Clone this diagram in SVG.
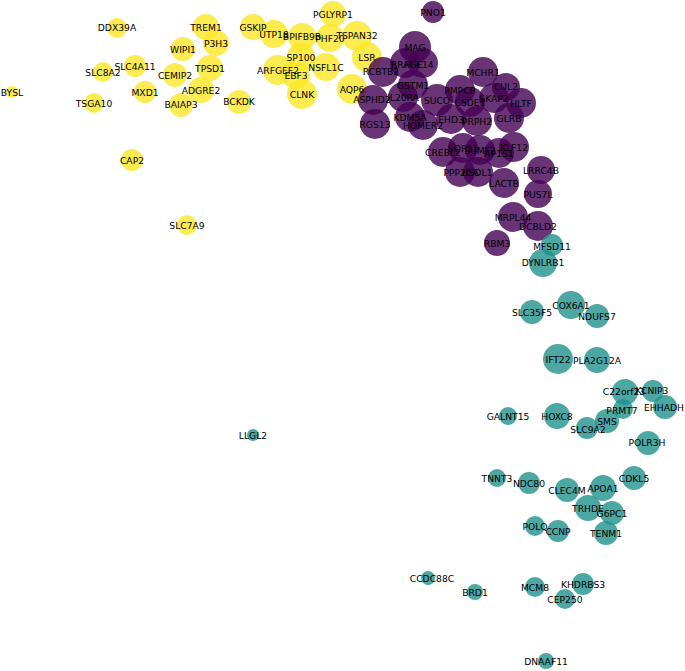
<svg xmlns="http://www.w3.org/2000/svg" width="685" height="671" viewBox="0 0 685 671">
<style>
.y{fill:#fde725;fill-opacity:0.8}
.p{fill:#440154;fill-opacity:0.8}
.t{fill:#21918c;fill-opacity:0.8}
text{font-family:"DejaVu Sans",sans-serif;font-size:9.2px;fill:#000;text-anchor:middle;dominant-baseline:central}
</style>
<rect width="685" height="671" fill="#fff"/>
<g id="connectors"/>
<g id="nodes">
<g id="node-DDX39A"><circle class="y" cx="117" cy="28" r="10"/></g>
<g id="node-TREM1"><circle class="y" cx="206" cy="27" r="13"/></g>
<g id="node-P3H3"><circle class="y" cx="216" cy="43" r="13"/></g>
<g id="node-WIPI1"><circle class="y" cx="183" cy="49" r="12"/></g>
<g id="node-SLC4A11"><circle class="y" cx="135" cy="66" r="11"/></g>
<g id="node-SLC8A2"><circle class="y" cx="103" cy="72" r="10"/></g>
<g id="node-CEMIP2"><circle class="y" cx="175" cy="75" r="12"/></g>
<g id="node-TPSD1"><circle class="y" cx="210" cy="68" r="13"/></g>
<g id="node-BYSL"><circle class="y" cx="12" cy="92" r="6"/></g>
<g id="node-MXD1"><circle class="y" cx="145" cy="92" r="11"/></g>
<g id="node-ADGRE2"><circle class="y" cx="201" cy="90" r="13"/></g>
<g id="node-TSGA10"><circle class="y" cx="94" cy="103" r="10"/></g>
<g id="node-BAIAP3"><circle class="y" cx="181" cy="105" r="12"/></g>
<g id="node-BCKDK"><circle class="y" cx="239" cy="102" r="12"/></g>
<g id="node-GSKIP"><circle class="y" cx="253" cy="27" r="13"/></g>
<g id="node-UTP18"><circle class="y" cx="274" cy="34" r="14"/></g>
<g id="node-BPIFB9B"><circle class="y" cx="302" cy="37" r="14"/></g>
<g id="node-PHF20"><circle class="y" cx="330" cy="38" r="14"/></g>
<g id="node-PGLYRP1"><circle class="y" cx="333" cy="14" r="13"/></g>
<g id="node-TSPAN32"><circle class="y" cx="357" cy="36" r="15"/></g>
<g id="node-SP100"><circle class="y" cx="301" cy="57" r="14"/></g>
<g id="node-ARFGEF2"><circle class="y" cx="278" cy="70" r="15"/></g>
<g id="node-EBF3"><circle class="y" cx="296" cy="75" r="14"/></g>
<g id="node-NSFL1C"><circle class="y" cx="326" cy="67" r="14"/></g>
<g id="node-LSR"><circle class="y" cx="367" cy="57" r="15"/></g>
<g id="node-CLNK"><circle class="y" cx="302" cy="94" r="15"/></g>
<g id="node-AQP6"><circle class="y" cx="352" cy="89" r="15"/></g>
<g id="node-CAP2"><circle class="y" cx="132" cy="160" r="11"/></g>
<g id="node-SLC7A9"><circle class="y" cx="187" cy="225" r="10"/></g>

<g id="node-PNO1"><circle class="p" cx="433" cy="12" r="11"/></g>
<g id="node-MAG"><circle class="p" cx="415" cy="47" r="16"/></g>
<g id="node-RRAGC"><circle class="p" cx="405" cy="63" r="15"/></g>
<g id="node-FGF14"><circle class="p" cx="423" cy="63" r="15"/></g>
<g id="node-RCBTB2"><circle class="p" cx="383" cy="72" r="15"/></g>
<g id="node-GSTM1"><circle class="p" cx="413" cy="85" r="15"/></g>
<g id="node-ASPHD2"><circle class="p" cx="373" cy="100" r="15"/></g>
<g id="node-IL20RA"><circle class="p" cx="403" cy="97" r="15"/></g>
<g id="node-SUCO"><circle class="p" cx="437" cy="100" r="16"/></g>
<g id="node-PMPCB"><circle class="p" cx="460" cy="90" r="15"/></g>
<g id="node-RGS13"><circle class="p" cx="375" cy="124" r="15"/></g>
<g id="node-KDM5A"><circle class="p" cx="410" cy="117" r="15"/></g>
<g id="node-HOMER2"><circle class="p" cx="423" cy="125" r="15"/></g>
<g id="node-EHD3"><circle class="p" cx="451" cy="119" r="15"/></g>
<g id="node-CSDE1"><circle class="p" cx="470" cy="102" r="15"/></g>
<g id="node-SKAP2"><circle class="p" cx="494" cy="98" r="15"/></g>
<g id="node-MCHR1"><circle class="p" cx="483" cy="72" r="15"/></g>
<g id="node-CUL2"><circle class="p" cx="506" cy="87" r="14"/></g>
<g id="node-HLTF"><circle class="p" cx="521" cy="103" r="15"/></g>
<g id="node-GLRB"><circle class="p" cx="509" cy="118" r="15"/></g>
<g id="node-PRPH2"><circle class="p" cx="477" cy="121" r="15"/></g>
<g id="node-CREBL2"><circle class="p" cx="443" cy="152" r="15"/></g>
<g id="node-SORT1"><circle class="p" cx="463" cy="148" r="15"/></g>
<g id="node-SUMF2"><circle class="p" cx="480" cy="150" r="15"/></g>
<g id="node-AP1S1"><circle class="p" cx="499" cy="153" r="15"/></g>
<g id="node-KLF12"><circle class="p" cx="514" cy="147" r="15"/></g>
<g id="node-PPP2CA"><circle class="p" cx="460" cy="172" r="15"/></g>
<g id="node-HSDL1"><circle class="p" cx="478" cy="172" r="15"/></g>
<g id="node-LACTB"><circle class="p" cx="504" cy="183" r="15"/></g>
<g id="node-LRRC4B"><circle class="p" cx="541" cy="170" r="14"/></g>
<g id="node-PUS7L"><circle class="p" cx="538" cy="194" r="14"/></g>
<g id="node-MRPL44"><circle class="p" cx="513" cy="217" r="15"/></g>
<g id="node-DCBLD2"><circle class="p" cx="538" cy="226" r="15"/></g>
<g id="node-RBM3"><circle class="p" cx="497" cy="243" r="13"/></g>

<g id="node-MFSD11"><circle class="t" cx="552" cy="245" r="11"/></g>
<g id="node-DYNLRB1"><circle class="t" cx="543" cy="263" r="14"/></g>
<g id="node-SLC35F5"><circle class="t" cx="532" cy="312" r="12"/></g>
<g id="node-COX6A1"><circle class="t" cx="571" cy="305" r="14"/></g>
<g id="node-NDUFS7"><circle class="t" cx="597" cy="316" r="12"/></g>
<g id="node-IFT22"><circle class="t" cx="558" cy="359" r="15"/></g>
<g id="node-PLA2G12A"><circle class="t" cx="597" cy="360" r="13"/></g>
<g id="node-C22orf23"><circle class="t" cx="625" cy="392" r="13"/></g>
<g id="node-KCNIP3"><circle class="t" cx="653" cy="391" r="11"/></g>
<g id="node-EHHADH"><circle class="t" cx="665" cy="407" r="12"/></g>
<g id="node-PRMT7"><circle class="t" cx="623" cy="409" r="10"/></g>
<g id="node-SMS"><circle class="t" cx="607" cy="421" r="12"/></g>
<g id="node-SLC9A2"><circle class="t" cx="587" cy="428" r="11"/></g>
<g id="node-GALNT15"><circle class="t" cx="508" cy="416" r="9"/></g>
<g id="node-HOXC8"><circle class="t" cx="557" cy="416" r="13"/></g>
<g id="node-POLR3H"><circle class="t" cx="648" cy="443" r="12"/></g>
<g id="node-CDKL5"><circle class="t" cx="634" cy="478" r="12"/></g>
<g id="node-TNNT3"><circle class="t" cx="497" cy="478" r="9"/></g>
<g id="node-NDC80"><circle class="t" cx="529" cy="483" r="11"/></g>
<g id="node-CLEC4M"><circle class="t" cx="567" cy="490" r="12"/></g>
<g id="node-APOA1"><circle class="t" cx="603" cy="488" r="13"/></g>
<g id="node-TRHDE"><circle class="t" cx="588" cy="508" r="13"/></g>
<g id="node-G6PC1"><circle class="t" cx="612" cy="513" r="12"/></g>
<g id="node-POLQ"><circle class="t" cx="535" cy="526" r="10"/></g>
<g id="node-CCNP"><circle class="t" cx="558" cy="531" r="11"/></g>
<g id="node-TENM1"><circle class="t" cx="606" cy="533" r="12"/></g>
<g id="node-BRD1"><circle class="t" cx="475" cy="592" r="8"/></g>
<g id="node-MCM8"><circle class="t" cx="535" cy="587" r="10"/></g>
<g id="node-KHDRBS3"><circle class="t" cx="583" cy="584" r="11"/></g>
<g id="node-CEP250"><circle class="t" cx="565" cy="599" r="10"/></g>
<g id="node-DNAAF11"><circle class="t" cx="546" cy="661" r="8"/></g>
<g id="node-LLGL2"><circle class="t" cx="253" cy="435" r="6"/></g>
<g id="node-CCDC88C"><circle class="t" cx="428" cy="578" r="7"/></g>
</g>
<g id="labels">
<text x="117" y="27">DDX39A</text>
<text x="206" y="27">TREM1</text>
<text x="216" y="43">P3H3</text>
<text x="183" y="49">WIPI1</text>
<text x="135" y="66">SLC4A11</text>
<text x="103" y="72">SLC8A2</text>
<text x="175" y="75">CEMIP2</text>
<text x="210" y="68">TPSD1</text>
<text x="12" y="92">BYSL</text>
<text x="145" y="92">MXD1</text>
<text x="201" y="90">ADGRE2</text>
<text x="94" y="103">TSGA10</text>
<text x="181" y="104">BAIAP3</text>
<text x="239" y="101">BCKDK</text>
<text x="253" y="27">GSKIP</text>
<text x="274" y="34">UTP18</text>
<text x="302" y="36">BPIFB9B</text>
<text x="330" y="38">PHF20</text>
<text x="333" y="14">PGLYRP1</text>
<text x="357" y="35">TSPAN32</text>
<text x="301" y="57">SP100</text>
<text x="278" y="70">ARFGEF2</text>
<text x="296" y="75">EBF3</text>
<text x="326" y="67">NSFL1C</text>
<text x="367" y="57">LSR</text>
<text x="302" y="94">CLNK</text>
<text x="352" y="89">AQP6</text>
<text x="132" y="160">CAP2</text>
<text x="187" y="225">SLC7A9</text>
<text x="433" y="12">PNO1</text>
<text x="415" y="47">MAG</text>
<text x="407" y="64">RRAGC</text>
<text x="419" y="64">FGF14</text>
<text x="381" y="71">RCBTB2</text>
<text x="413" y="85">GSTM1</text>
<text x="372" y="99">ASPHD2</text>
<text x="403" y="97">IL20RA</text>
<text x="437" y="100">SUCO</text>
<text x="460" y="90">PMPCB</text>
<text x="375" y="124">RGS13</text>
<text x="410" y="117">KDM5A</text>
<text x="423" y="125">HOMER2</text>
<text x="451" y="119">EHD3</text>
<text x="470" y="102">CSDE1</text>
<text x="494" y="98">SKAP2</text>
<text x="483" y="72">MCHR1</text>
<text x="506" y="86">CUL2</text>
<text x="521" y="103">HLTF</text>
<text x="509" y="118">GLRB</text>
<text x="477" y="121">PRPH2</text>
<text x="443" y="152">CREBL2</text>
<text x="463" y="148">SORT1</text>
<text x="480" y="150">SUMF2</text>
<text x="499" y="153">AP1S1</text>
<text x="514" y="147">KLF12</text>
<text x="461" y="172">PPP2CA</text>
<text x="477" y="172">HSDL1</text>
<text x="504" y="183">LACTB</text>
<text x="541" y="170">LRRC4B</text>
<text x="538" y="194">PUS7L</text>
<text x="513" y="217">MRPL44</text>
<text x="538" y="226">DCBLD2</text>
<text x="497" y="243">RBM3</text>
<text x="552" y="246">MFSD11</text>
<text x="543" y="262">DYNLRB1</text>
<text x="532" y="312">SLC35F5</text>
<text x="571" y="305">COX6A1</text>
<text x="597" y="316">NDUFS7</text>
<text x="558" y="359">IFT22</text>
<text x="597" y="360">PLA2G12A</text>
<text x="624" y="391">C22orf23</text>
<text x="652" y="390">KCNIP3</text>
<text x="664" y="407">EHHADH</text>
<text x="622" y="410">PRMT7</text>
<text x="607" y="421">SMS</text>
<text x="588" y="429">SLC9A2</text>
<text x="508" y="416">GALNT15</text>
<text x="557" y="416">HOXC8</text>
<text x="647" y="442">POLR3H</text>
<text x="634" y="478">CDKL5</text>
<text x="497" y="478">TNNT3</text>
<text x="529" y="483">NDC80</text>
<text x="567" y="490">CLEC4M</text>
<text x="603" y="488">APOA1</text>
<text x="588" y="508">TRHDE</text>
<text x="612" y="513">G6PC1</text>
<text x="535" y="526">POLQ</text>
<text x="558" y="531">CCNP</text>
<text x="606" y="533">TENM1</text>
<text x="475" y="592">BRD1</text>
<text x="535" y="587">MCM8</text>
<text x="583" y="584">KHDRBS3</text>
<text x="565" y="599">CEP250</text>
<text x="546" y="661">DNAAF11</text>
<text x="253" y="435">LLGL2</text>
<text x="432" y="578">CCDC88C</text>
</g>
</svg>
